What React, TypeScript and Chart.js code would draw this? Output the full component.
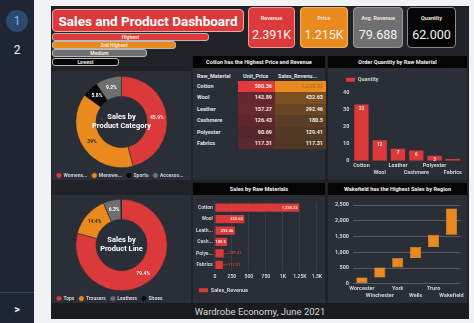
import React, { useEffect, useRef } from "react";
import { Chart, registerables } from "chart.js";
Chart.register(...registerables);

const categoryLabels = ["Womens...", "Menswe...", "Sports", "Accesso..."];
const categoryShare = [45.9, 39, 5.8, 9.2];
const lineLabels = ["Tops", "Trousers", "Leathers", "Shoes"];
const lineShare = [79.4, 14.4, 6.3, 0.2];
const materials = ["Cotton", "Wool", "Leather", "Cashmere", "Polyester", "Fabrics"];
const materialShort = ["Cotton", "Wool", "Leath...", "Cash...", "Polye...", "Fabrics"];
const unitPrice = [580.36, 142.89, 157.27, 126.43, 90.69, 117.31];
const salesRevenue = [1238.32, 432.63, 292.46, 180.5, 129.41, 117.31];
const quantity = [33, 12, 7, 6, 3, 1];
const regions = ["Worcester", "Winchester", "York", "Wells", "Truro", "Wakefield"];
const regionStart = [0, 200, 520, 820, 1170, 1560];
const regionEnd = [200, 520, 820, 1170, 1560, 2391];
const kpiLabels = ["Revenue", "Price", "Avg. Revenue", "Quantity"];
const kpiValues = ["2.391K", "1.215K", "79.688", "62.000"];
const tierLabels = ["Highest", "2nd Highest", "Medium", "Lowest"];

const RED = "#dc3a3a";
const ORANGE = "#ea8a1e";
const GRAY = "#6f6f70";
const BLACK = "#060606";
const PANEL = "#2a2e36";
const TXT = "#cfd2d8";
const FONT = "Roboto";

const fmt = (v: number) => v.toLocaleString("en-US", { maximumFractionDigits: 2 });

function ChartBox({ left, top, width, height, make }: any) {
  const ref = useRef<HTMLCanvasElement>(null);
  useEffect(() => {
    const chart = new Chart(ref.current as HTMLCanvasElement, make());
    return () => chart.destroy();
  }, []);
  return (
    <div style={{ position: "absolute", left, top, width, height }}>
      <canvas ref={ref} />
    </div>
  );
}

const donutExtras = (center: string[], labelColors: string[]) => ({
  id: "donutExtras",
  afterDatasetsDraw(chart: any) {
    const ctx = chart.ctx;
    const meta = chart.getDatasetMeta(0);
    const data = chart.data.datasets[0].data as number[];
    ctx.save();
    ctx.textAlign = "center";
    ctx.textBaseline = "middle";
    ctx.font = `bold 5px ${FONT}`;
    meta.data.forEach((arc: any, i: number) => {
      if (data[i] < 1) return;
      const p = arc.tooltipPosition();
      ctx.fillStyle = labelColors[i];
      ctx.fillText(data[i] + "%", p.x, p.y);
    });
    const a = meta.data[0];
    ctx.fillStyle = "#ffffff";
    ctx.font = `bold 7.5px ${FONT}`;
    center.forEach((t, k) => ctx.fillText(t, a.x, a.y + (k - (center.length - 1) / 2) * 9));
    ctx.restore();
  },
});

const donutConfig = (labels: string[], values: number[], colors: string[], center: string[], labelColors: string[]) => () => ({
  type: "doughnut",
  data: {
    labels,
    datasets: [{ data: values, backgroundColor: colors, borderWidth: 0.6, borderColor: PANEL, hoverOffset: 0 }],
  },
  options: {
    animation: false,
    responsive: true,
    maintainAspectRatio: false,
    cutout: "56%",
    layout: { padding: 0 },
    plugins: {
      legend: {
        position: "bottom",
        align: "start",
        labels: {
          usePointStyle: true,
          pointStyle: "circle",
          boxWidth: 4,
          boxHeight: 4,
          padding: 5,
          color: TXT,
          font: { size: 5, family: FONT, weight: "bold" },
        },
      },
      tooltip: { enabled: false },
    },
  },
  plugins: [donutExtras(center, labelColors)],
});

const tickFont = { size: 5.5, family: FONT, weight: "bold" };

const qtyConfig = () => ({
  type: "bar",
  data: {
    labels: materials,
    datasets: [{ label: "Quantity", data: quantity, backgroundColor: RED, barPercentage: 0.78, categoryPercentage: 1 }],
  },
  options: {
    animation: false,
    responsive: true,
    maintainAspectRatio: false,
    layout: { padding: { left: 10, right: 4, top: 1, bottom: 2 } },
    plugins: {
      legend: {
        position: "top",
        align: "start",
        labels: { boxWidth: 9, boxHeight: 4, padding: 6, color: TXT, font: tickFont },
      },
      tooltip: { enabled: false },
    },
    scales: {
      x: {
        grid: { display: false, drawTicks: false },
        border: { display: false },
        ticks: {
          color: TXT,
          font: tickFont,
          maxRotation: 0,
          autoSkip: false,
          padding: 2,
          callback: (_v: any, i: number) => (i % 2 ? ["", materials[i]] : materials[i]),
        },
      },
      y: {
        min: 0,
        max: 40,
        grid: { display: false, drawTicks: false },
        border: { display: false },
        ticks: { stepSize: 10, color: TXT, font: tickFont, padding: 3 },
      },
    },
  },
  plugins: [
    {
      id: "qtyLabels",
      afterDatasetsDraw(chart: any) {
        const ctx = chart.ctx;
        const meta = chart.getDatasetMeta(0);
        ctx.save();
        ctx.font = `bold 4.5px ${FONT}`;
        ctx.fillStyle = "#f4e0e0";
        ctx.textAlign = "center";
        ctx.textBaseline = "top";
        meta.data.forEach((b: any, i: number) => {
          if (quantity[i] < 2) return;
          ctx.fillText(String(quantity[i]), b.x, b.y + 2);
        });
        ctx.restore();
      },
    },
  ],
});

const salesConfig = () => ({
  type: "bar",
  data: {
    labels: materialShort,
    datasets: [{ label: "Sales_Revenue", data: salesRevenue, backgroundColor: RED, barPercentage: 0.72, categoryPercentage: 1 }],
  },
  options: {
    indexAxis: "y",
    animation: false,
    responsive: true,
    maintainAspectRatio: false,
    layout: { padding: { left: 1, right: 6, top: 5, bottom: 0 } },
    plugins: {
      legend: {
        position: "bottom",
        align: "start",
        labels: { boxWidth: 9, boxHeight: 4, padding: 5, color: TXT, font: tickFont },
      },
      tooltip: { enabled: false },
    },
    scales: {
      x: {
        min: 0,
        max: 1500,
        grid: { color: "#383c45", drawTicks: false },
        border: { display: false },
        ticks: {
          stepSize: 250,
          color: TXT,
          font: { size: 5, family: FONT, weight: "bold" },
          padding: 3,
          maxRotation: 0,
          autoSkip: false,
          callback: (v: number) => (v >= 1000 ? v / 1000 + "K" : String(v)),
        },
      },
      y: {
        grid: { display: false, drawTicks: false },
        border: { display: false },
        ticks: { color: TXT, font: { size: 5, family: FONT, weight: "bold" }, padding: 2 },
      },
    },
  },
  plugins: [
    {
      id: "salesLabels",
      afterDatasetsDraw(chart: any) {
        const ctx = chart.ctx;
        const meta = chart.getDatasetMeta(0);
        ctx.save();
        ctx.font = `bold 4px ${FONT}`;
        ctx.textBaseline = "middle";
        meta.data.forEach((b: any, i: number) => {
          const t = fmt(salesRevenue[i]);
          const w = b.x - b.base;
          if (w > 11) {
            ctx.fillStyle = "#f8e4e4";
            ctx.textAlign = "right";
            ctx.fillText(t, b.x - 1.5, b.y);
          } else {
            ctx.strokeStyle = RED;
            ctx.lineWidth = 0.6;
            ctx.beginPath();
            ctx.moveTo(b.x, b.y);
            ctx.lineTo(b.x + 5, b.y);
            ctx.stroke();
            ctx.fillStyle = RED;
            ctx.textAlign = "left";
            ctx.fillText(t, b.x + 5, b.y);
          }
        });
        ctx.restore();
      },
    },
  ],
});

const waterfallConfig = () => ({
  type: "bar",
  data: {
    labels: regions,
    datasets: [
      {
        label: "Sales",
        data: regions.map((_, i) => [regionStart[i], regionEnd[i]]),
        backgroundColor: ORANGE,
        borderColor: "#f2a550",
        borderWidth: 0.6,
        borderSkipped: false,
        barPercentage: 0.62,
        categoryPercentage: 1,
      },
    ],
  },
  options: {
    animation: false,
    responsive: true,
    maintainAspectRatio: false,
    layout: { padding: { left: 1, right: 4, top: 10, bottom: 2 } },
    plugins: { legend: { display: false }, tooltip: { enabled: false } },
    scales: {
      x: {
        grid: { display: false, drawTicks: false },
        border: { display: false },
        ticks: {
          color: TXT,
          font: tickFont,
          maxRotation: 0,
          autoSkip: false,
          padding: 2,
          callback: (_v: any, i: number) => (i % 2 ? ["", regions[i]] : regions[i]),
        },
      },
      y: {
        min: 0,
        max: 2500,
        grid: { color: "#555a63", drawTicks: false },
        border: { display: false },
        ticks: { stepSize: 500, color: TXT, font: tickFont, padding: 4 },
      },
    },
  },
});

const box = (left: number, top: number, width: number, height: number, bg: string, extra: any = {}) => ({
  position: "absolute" as const,
  left,
  top,
  width,
  height,
  background: bg,
  boxSizing: "border-box" as const,
  ...extra,
});

function Header({ left, top, width, text }: any) {
  return (
    <div
      style={box(left, top, width, 12, "#050505", {
        color: "#f2f2f2",
        font: `bold 5.6px ${FONT}`,
        display: "flex",
        alignItems: "center",
        justifyContent: "center",
        whiteSpace: "nowrap",
      })}
    >
      {text}
    </div>
  );
}

const mix = (a: number[], b: number[], t: number) =>
  `rgb(${a.map((x, i) => Math.round(x + (b[i] - x) * t)).join(",")})`;

export default function App() {
  const kpiBg = [RED, ORANGE, GRAY, BLACK];
  const kpiBorder = ["#ee9a9a", "#f3b46a", "#9a9a9a", "#8a8a8a"];
  const kpiLeft = [248, 300, 353, 407];
  const kpiWidth = [47, 48, 50, 49];
  const tierBg = [RED, ORANGE, GRAY, BLACK];
  const tierWidth = [157, 124, 95, 67];
  const pMin = Math.min(...unitPrice), pMax = Math.max(...unitPrice);
  const sMin = Math.min(...salesRevenue), sMax = Math.max(...salesRevenue);

  return (
    <div style={{ position: "absolute", left: 0, top: 0, width: 474, height: 323, overflow: "hidden", background: "#f1f2f3", fontFamily: FONT }}>
      {/* sidebar */}
      <div style={box(0, 0, 34, 323, "#1e2636")} />
      <div style={box(6, 10, 22, 22, "#2c4a6e", { borderRadius: "50%", color: "#8fb6e4", font: `12px ${FONT}`, display: "flex", alignItems: "center", justifyContent: "center" })}>1</div>
      <div style={box(6, 39, 22, 22, "transparent", { color: "#f4f4f4", font: `12px ${FONT}`, display: "flex", alignItems: "center", justifyContent: "center" })}>2</div>
      <div style={box(0, 292, 34, 1, "#3a4556")} />
      <div style={box(6, 300, 22, 18, "transparent", { color: "#f4f4f4", font: `bold 11px ${FONT}`, display: "flex", alignItems: "center", justifyContent: "center" })}>{">"}</div>

      {/* dashboard */}
      <div style={box(51, 6, 418, 313, "#1f2227")} />
      <div style={box(51, 303, 418, 16, "#1a1c20", { color: "#d6d6d6", font: `9.5px ${FONT}`, display: "flex", alignItems: "center", justifyContent: "center" })}>
        Wardrobe Economy, June 2021
      </div>

      {/* title */}
      <div style={box(52, 9, 192, 23, RED, { border: "1px solid #f0a8a8", borderRadius: 4, color: "#ffffff", font: `bold 13.5px ${FONT}`, display: "flex", alignItems: "center", justifyContent: "center", whiteSpace: "nowrap" })}>
        Sales and Product Dashboard
      </div>
      {tierLabels.map((t, i) => (
        <div
          key={t}
          style={box(52, 32.5 + i * 8.4, tierWidth[i], 8, tierBg[i], {
            border: "0.8px solid #b8b8b8",
            borderRadius: 3,
            color: i === 3 ? "#e8e8e8" : "#f6e6d6",
            font: `bold 5px ${FONT}`,
            display: "flex",
            alignItems: "center",
            justifyContent: "center",
            whiteSpace: "nowrap",
          })}
        >
          {t}
        </div>
      ))}

      {/* KPI cards */}
      {kpiLabels.map((t, i) => (
        <div key={t} style={box(kpiLeft[i], 7, kpiWidth[i], 41, kpiBg[i], { border: `1px solid ${kpiBorder[i]}`, borderRadius: 4, textAlign: "center", whiteSpace: "nowrap" })}>
          <div style={{ marginTop: 7, font: `bold 5.5px ${FONT}`, color: "#f0e0d8" }}>{t}</div>
          <div style={{ marginTop: 6, font: `12.5px ${FONT}`, color: "#f8f4f0" }}>{kpiValues[i]}</div>
        </div>
      ))}

      {/* panels */}
      <div style={box(52, 71, 139, 109, PANEL)} />
      <div style={box(52, 195, 139, 108, PANEL)} />
      <Header left={193} top={56} width={132} text="Cotton has the Highest Price and Revenue" />
      <div style={box(193, 68, 132, 112, PANEL)} />
      <Header left={328} top={56} width={139} text="Order Quantity by Raw Material" />
      <div style={box(328, 68, 139, 112, PANEL)} />
      <Header left={193} top={183} width={132} text="Sales by Raw  Materials" />
      <div style={box(193, 195, 132, 108, PANEL)} />
      <Header left={328} top={183} width={139} text="Wakefield has the Highest Sales by Region" />
      <div style={box(328, 195, 139, 108, PANEL)} />

      {/* table */}
      <div style={box(193, 71, 132, 10, "transparent", { font: `bold 5.5px ${FONT}`, color: "#dfe2e8", whiteSpace: "nowrap" })}>
        <span style={{ position: "absolute", left: 4, top: 2 }}>Raw_Material</span>
        <span style={{ position: "absolute", left: 50, top: 2 }}>Unit_Price</span>
        <span style={{ position: "absolute", left: 85, top: 2 }}>Sales_Revenu...</span>
      </div>
      {materials.map((m, i) => {
        const top = 81 + i * 11.4;
        const tp = (unitPrice[i] - pMin) / (pMax - pMin);
        const ts = (salesRevenue[i] - sMin) / (sMax - sMin);
        return (
          <React.Fragment key={m}>
            <div style={box(197, top, 40, 11.4, "transparent", { font: `bold 5.5px ${FONT}`, color: "#dfe2e8", lineHeight: "11.4px" })}>{m}</div>
            <div style={box(238, top, 37, 11.4, mix([84, 38, 44], [226, 58, 58], tp), { font: `bold 5.5px ${FONT}`, color: "#f2e8e8", lineHeight: "11.4px", textAlign: "right", paddingRight: 3 })}>
              {fmt(unitPrice[i])}
            </div>
            <div style={box(275, top, 51, 11.4, mix([80, 56, 36], [234, 138, 30], ts), { font: `bold 5.5px ${FONT}`, color: i === 0 ? "#b8701e" : "#f2ece4", lineHeight: "11.4px", textAlign: "right", paddingRight: 3 })}>
              {fmt(salesRevenue[i])}
            </div>
          </React.Fragment>
        );
      })}

      {/* charts */}
      <ChartBox left={52} top={76} width={139} height={112} make={donutConfig(categoryLabels, categoryShare, [RED, ORANGE, BLACK, GRAY], ["Sales by", "Product Category"], ["#ffe8e8", "#3a2a10", "#ffffff", "#ffffff"])} />
      <ChartBox left={52} top={199} width={139} height={112} make={donutConfig(lineLabels, lineShare, [RED, ORANGE, GRAY, BLACK], ["Sales by", "Product Line"], ["#ffe8e8", "#3a2a10", "#ffffff", "#ffffff"])} />
      <ChartBox left={330} top={70} width={136} height={110} make={qtyConfig} />
      <ChartBox left={193} top={197} width={132} height={106} make={salesConfig} />
      <ChartBox left={330} top={195} width={136} height={108} make={waterfallConfig} />
    </div>
  );
}
